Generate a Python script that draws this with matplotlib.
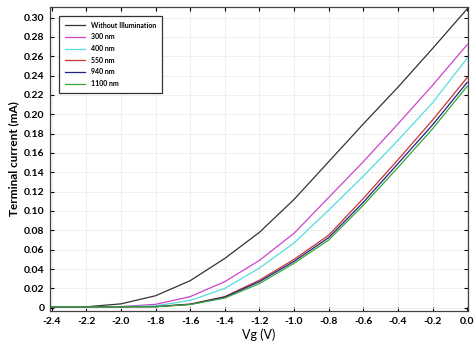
import matplotlib
matplotlib.use("Agg")
import matplotlib.pyplot as plt
import numpy as np

plt.rcParams['font.family'] = ['Lato', 'DejaVu Sans']
plt.rcParams['axes.unicode_minus'] = False

vg = [-2.4, -2.2, -2.0, -1.8, -1.6, -1.4, -1.2, -1.0, -0.8, -0.6, -0.4, -0.2, 0.0]

dark = [0.001, 0.001, 0.004, 0.0124, 0.028, 0.051, 0.078, 0.112, 0.151, 0.190, 0.228, 0.268, 0.309]
nm300 = [0.001, 0.001, 0.0012, 0.0035, 0.0115, 0.027, 0.049, 0.077, 0.114, 0.151, 0.190, 0.230, 0.272]
nm400 = [0.001, 0.001, 0.001, 0.002, 0.0075, 0.020, 0.041, 0.067, 0.101, 0.136, 0.173, 0.212, 0.258]
nm550 = [0.001, 0.001, 0.001, 0.0012, 0.0038, 0.0115, 0.0285, 0.050, 0.075, 0.113, 0.153, 0.194, 0.238]
nm940 = [0.001, 0.001, 0.001, 0.0011, 0.0035, 0.011, 0.027, 0.048, 0.0725, 0.109, 0.149, 0.189, 0.233]
nm1100 = [0.001, 0.001, 0.001, 0.001, 0.0033, 0.010, 0.025, 0.046, 0.070, 0.106, 0.145, 0.185, 0.229]

labels = ['Without Illumination', '300 nm', '400 nm', '550 nm', '940 nm', '1100 nm']
colors = ['#333333', '#cc44cc', '#55dddd', '#cc3333', '#222288', '#33aa33']

xticks = [-2.4, -2.2, -2.0, -1.8, -1.6, -1.4, -1.2, -1.0, -0.8, -0.6, -0.4, -0.2, 0.0]
yticks = [0, 0.02, 0.04, 0.06, 0.08, 0.10, 0.12, 0.14, 0.16, 0.18, 0.20, 0.22, 0.24, 0.26, 0.28, 0.30]

fig = plt.figure(figsize=(4.74, 3.45), dpi=100)
ax = fig.add_axes([0.1055, 0.0985, 0.882, 0.8815])

for ys, lab, c in zip([dark, nm300, nm400, nm550, nm940, nm1100], labels, colors):
    ax.plot(vg, ys, color=c, lw=0.9, label=lab)

ax.set_xlim(-2.41, 0.005)
ax.set_ylim(-0.0034, 0.311)
ax.set_xticks(xticks)
ax.set_xticklabels(['%.1f' % v for v in xticks])
ax.set_yticks(yticks)
ax.set_yticklabels(['0' if v == 0 else '%.2f' % v for v in yticks])
ax.grid(True, color='#ececec', lw=0.6)
ax.tick_params(direction='in', top=True, right=True, length=3, width=0.8,
               labelsize=7.5, pad=4)
for lab in ax.get_xticklabels() + ax.get_yticklabels():
    lab.set_fontweight('bold')
for s in ax.spines.values():
    s.set_color('#444444')
    s.set_linewidth(0.9)

ax.set_xlabel('Vg (V)', fontsize=9, labelpad=2)
ax.set_ylabel('Terminal current (mA)', fontsize=8.5, fontweight='bold', labelpad=3)

leg = ax.legend(loc='upper left', bbox_to_anchor=(0.022, 0.97),
                prop={'weight': 'bold', 'size': 5}, fancybox=False,
                edgecolor='#333333', handlelength=2.9, handletextpad=0.9,
                borderpad=0.8, labelspacing=0.68, framealpha=1,
                borderaxespad=0)
leg.get_frame().set_linewidth(0.9)

fig.savefig('out.png', dpi=100)
